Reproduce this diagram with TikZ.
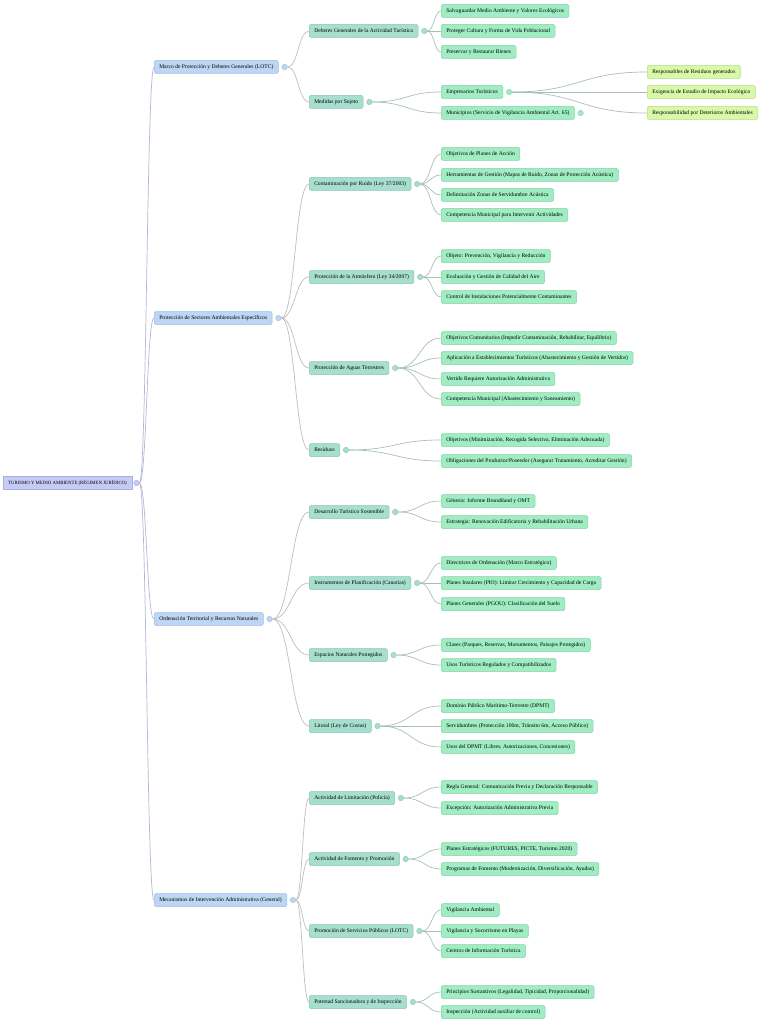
\documentclass[tikz,border=0pt]{standalone}
\usepackage{fontspec}
\setmainfont{Liberation Serif}
\usetikzlibrary{positioning, calc}

\definecolor{rootfill}{HTML}{C4CBF5}
\definecolor{rootline}{HTML}{A9B0E0}
\definecolor{secfill}{HTML}{BDD6F3}
\definecolor{secline}{HTML}{A3BEE0}
\definecolor{topfill}{HTML}{A6DFCE}
\definecolor{topline}{HTML}{8CC6B5}
\definecolor{itemfill}{HTML}{A0EDC3}
\definecolor{itemline}{HTML}{86D2A8}
\definecolor{subfill}{HTML}{D8F9A8}
\definecolor{subline}{HTML}{B8DA8C}
\definecolor{edgeA}{HTML}{B4B6D6}
\definecolor{edgeB}{HTML}{BDBDC4}
\definecolor{edgeC}{HTML}{A9BFB6}

\begin{document}
\begin{tikzpicture}[x=1pt, y=-1pt, font=\fontsize{5.6}{6.5}\selectfont,
  bx/.style={draw, rounded corners=1.5pt, anchor=west, minimum height=13pt,
             inner xsep=5pt, inner ysep=0pt, line width=.5pt},
  rt/.style={bx, fill=rootfill, draw=rootline, rounded corners=0pt,
             font=\fontsize{4.8}{6}\selectfont},
  sec/.style={bx, fill=secfill, draw=secline},
  top/.style={bx, fill=topfill, draw=topline},
  itm/.style={bx, fill=itemfill, draw=itemline},
  sub/.style={bx, fill=subfill, draw=subline},
  kb/.style={circle, inner sep=0pt, minimum size=5.5pt, line width=.4pt},
  kbA/.style={kb, fill=rootfill, draw=rootline},
  kbB/.style={kb, fill=secfill, draw=secline},
  kbC/.style={kb, fill=topfill, draw=topline},
  kbD/.style={kb, fill=itemfill, draw=itemline},
  lk/.style={line width=.7pt, to path={let \p1=(\tikztostart), \p2=(\tikztotarget) in
             .. controls ({(\x1+\x2)/2},\y1) and ({(\x1+\x2)/2},\y2) .. (\tikztotarget)}},
  la/.style={lk, draw=edgeA},
  lb/.style={lk, draw=edgeB},
  lc/.style={lk, draw=edgeC}]
\useasboundingbox (0,0) rectangle (768,1024);
% Root and the four main blocks.
\node[rt] (tma) at (3,483) {TURISMO Y MEDIO AMBIENTE (RÉGIMEN JURÍDICO)};
\node[sec] (marco) at (154,67) {Marco de Protección y Deberes Generales (LOTC)};
\node[sec] (sect) at (154,318) {Protección de Sectores Ambientales Específicos};
\node[sec] (orden) at (154,619) {Ordenación Territorial y Recursos Naturales};
\node[sec] (meca) at (154,900) {Mecanismos de Intervención Administrativa (General)};
% Topics under each block.
\node[top] (deb) at (309,31) {Deberes Generales de la Actividad Turística};
\node[top] (med) at (309,102) {Medidas por Sujeto};
\node[top] (ruido) at (309,184) {Contaminación por Ruido (Ley 37/2003)};
\node[top] (atm) at (309,277) {Protección de la Atmósfera (Ley 34/2007)};
\node[top] (agua) at (309,368) {Protección de Aguas Terrestres};
\node[top] (resid) at (309,450) {Residuos};
\node[top] (desa) at (309,512) {Desarrollo Turístico Sostenible};
\node[top] (instr) at (309,583) {Instrumentos de Planificación (Canarias)};
\node[top] (enp) at (309,655) {Espacios Naturales Protegidos};
\node[top] (lito) at (309,726) {Litoral (Ley de Costas)};
\node[top] (limi) at (309,798) {Actividad de Limitación (Policía)};
\node[top] (fom) at (309,859) {Actividad de Fomento y Promoción};
\node[top] (serv) at (309,931) {Promoción de Servicios Públicos (LOTC)};
\node[top] (pot) at (309,1002) {Potestad Sancionadora y de Inspección};
% Leaves.
\node[itm] (deb1) at (441,11) {Salvaguardar Medio Ambiente y Valores Ecológicos};
\node[itm] (deb2) at (441,31) {Proteger Cultura y Forma de Vida Poblacional};
\node[itm] (deb3) at (441,52) {Preservar y Restaurar Bienes};
\node[itm] (med1) at (441,92) {Empresarios Turísticos};
\node[itm] (med2) at (441,113) {Municipios (Servicio de Vigilancia Ambiental Art. 65)};
\node[sub] (emp1) at (647,72) {Responsables de Residuos generados};
\node[sub] (emp2) at (647,92) {Exigencia de Estudio de Impacto Ecológico};
\node[sub] (emp3) at (647,113) {Responsabilidad por Deterioros Ambientales};
\node[itm] (rui1) at (441,154) {Objetivos de Planes de Acción};
\node[itm] (rui2) at (441,175) {Herramientas de Gestión (Mapas de Ruido, Zonas de Protección Acústica)};
\node[itm] (rui3) at (441,195) {Delimitación Zonas de Servidumbre Acústica};
\node[itm] (rui4) at (441,215) {Competencia Municipal para Intervenir Actividades};
\node[itm] (atm1) at (441,256) {Objeto: Prevención, Vigilancia y Reducción};
\node[itm] (atm2) at (441,277) {Evaluación y Gestión de Calidad del Aire};
\node[itm] (atm3) at (441,297) {Control de Instalaciones Potencialmente Contaminantes};
\node[itm] (agu1) at (441,338) {Objetivos Comunitarios (Impedir Contaminación, Rehabilitar, Equilibrio)};
\node[itm] (agu2) at (441,358) {Aplicación a Establecimientos Turísticos (Abastecimiento y Gestión de Vertidos)};
\node[itm] (agu3) at (441,379) {Vertido Requiere Autorización Administrativa};
\node[itm] (agu4) at (441,399) {Competencia Municipal (Abastecimiento y Saneamiento)};
\node[itm] (res1) at (441,440) {Objetivos (Minimización, Recogida Selectiva, Eliminación Adecuada)};
\node[itm] (res2) at (441,461) {Obligaciones del Productor/Poseedor (Asegurar Tratamiento, Acreditar Gestión)};
\node[itm] (des1) at (441,501) {Génesis: Informe Brundtland y OMT};
\node[itm] (des2) at (441,522) {Estrategia: Renovación Edificatoria y Rehabilitación Urbana};
\node[itm] (ins1) at (441,563) {Directrices de Ordenación (Marco Estratégico)};
\node[itm] (ins2) at (441,583) {Planes Insulares (PIO): Limitar Crecimiento y Capacidad de Carga};
\node[itm] (ins3) at (441,604) {Planes Generales (PGOU): Clasificación del Suelo};
\node[itm] (enp1) at (441,645) {Clases (Parques, Reservas, Monumentos, Paisajes Protegidos)};
\node[itm] (enp2) at (441,665) {Usos Turísticos Regulados y Compatibilizados};
\node[itm] (lit1) at (441,706) {Dominio Público Marítimo-Terrestre (DPMT)};
\node[itm] (lit2) at (441,726) {Servidumbres (Protección 100m, Tránsito 6m, Acceso Público)};
\node[itm] (lit3) at (441,747) {Usos del DPMT (Libres, Autorizaciones, Concesiones)};
\node[itm] (lim1) at (441,787) {Regla General: Comunicación Previa y Declaración Responsable};
\node[itm] (lim2) at (441,808) {Excepción: Autorización Administrativa Previa};
\node[itm] (fom1) at (441,849) {Planes Estratégicos (FUTURES, PICTE, Turismo 2020)};
\node[itm] (fom2) at (441,869) {Programas de Fomento (Modernización, Diversificación, Ayudas)};
\node[itm] (ser1) at (441,910) {Vigilancia Ambiental};
\node[itm] (ser2) at (441,931) {Vigilancia y Socorrismo en Playas};
\node[itm] (ser3) at (441,951) {Centros de Información Turística};
\node[itm] (pot1) at (441,992) {Principios Sustantivos (Legalidad, Tipicidad, Proporcionalidad)};
\node[itm] (pot2) at (441,1012) {Inspección (Actividad auxiliar de control)};
% Fold knobs beside every parent.
\node[kbA, right=1.5pt of tma] (tma-k) {};
\node[kbB, right=3pt of marco] (marco-k) {}; \node[kbB, right=3pt of sect] (sect-k) {};
\node[kbB, right=3pt of orden] (orden-k) {}; \node[kbB, right=3pt of meca] (meca-k) {};
\node[kbC, right=3pt of deb] (deb-k) {}; \node[kbC, right=3pt of med] (med-k) {};
\node[kbC, right=3pt of ruido] (ruido-k) {}; \node[kbC, right=3pt of atm] (atm-k) {};
\node[kbC, right=3pt of agua] (agua-k) {}; \node[kbC, right=3pt of resid] (resid-k) {};
\node[kbC, right=3pt of desa] (desa-k) {}; \node[kbC, right=3pt of instr] (instr-k) {};
\node[kbC, right=3pt of enp] (enp-k) {}; \node[kbC, right=3pt of lito] (lito-k) {};
\node[kbC, right=3pt of limi] (limi-k) {}; \node[kbC, right=3pt of fom] (fom-k) {};
\node[kbC, right=3pt of serv] (serv-k) {}; \node[kbC, right=3pt of pot] (pot-k) {};
\node[kbD, right=3pt of med1] (med1-k) {}; \node[kbD, right=3pt of med2] (med2-k) {};
% Branches: root to blocks, blocks to topics, topics to leaves.
\draw[la] (tma-k.east) to (marco.west); \draw[la] (tma-k.east) to (sect.west);
\draw[la] (tma-k.east) to (orden.west); \draw[la] (tma-k.east) to (meca.west);
\draw[lb] (marco-k.east) to (deb.west); \draw[lb] (marco-k.east) to (med.west);
\draw[lb] (sect-k.east) to (ruido.west); \draw[lb] (sect-k.east) to (atm.west);
\draw[lb] (sect-k.east) to (agua.west); \draw[lb] (sect-k.east) to (resid.west);
\draw[lb] (orden-k.east) to (desa.west); \draw[lb] (orden-k.east) to (instr.west);
\draw[lb] (orden-k.east) to (enp.west); \draw[lb] (orden-k.east) to (lito.west);
\draw[lb] (meca-k.east) to (limi.west); \draw[lb] (meca-k.east) to (fom.west);
\draw[lb] (meca-k.east) to (serv.west); \draw[lb] (meca-k.east) to (pot.west);
\draw[lc] (deb-k.east) to (deb1.west); \draw[lc] (deb-k.east) to (deb2.west); \draw[lc] (deb-k.east) to (deb3.west);
\draw[lc] (med-k.east) to (med1.west); \draw[lc] (med-k.east) to (med2.west);
\draw[lc] (med1-k.east) to (emp1.west); \draw[lc] (med1-k.east) to (emp2.west); \draw[lc] (med1-k.east) to (emp3.west);
\draw[lc] (ruido-k.east) to (rui1.west); \draw[lc] (ruido-k.east) to (rui2.west);
\draw[lc] (ruido-k.east) to (rui3.west); \draw[lc] (ruido-k.east) to (rui4.west);
\draw[lc] (atm-k.east) to (atm1.west); \draw[lc] (atm-k.east) to (atm2.west); \draw[lc] (atm-k.east) to (atm3.west);
\draw[lc] (agua-k.east) to (agu1.west); \draw[lc] (agua-k.east) to (agu2.west);
\draw[lc] (agua-k.east) to (agu3.west); \draw[lc] (agua-k.east) to (agu4.west);
\draw[lc] (resid-k.east) to (res1.west); \draw[lc] (resid-k.east) to (res2.west);
\draw[lc] (desa-k.east) to (des1.west); \draw[lc] (desa-k.east) to (des2.west);
\draw[lc] (instr-k.east) to (ins1.west); \draw[lc] (instr-k.east) to (ins2.west); \draw[lc] (instr-k.east) to (ins3.west);
\draw[lc] (enp-k.east) to (enp1.west); \draw[lc] (enp-k.east) to (enp2.west);
\draw[lc] (lito-k.east) to (lit1.west); \draw[lc] (lito-k.east) to (lit2.west); \draw[lc] (lito-k.east) to (lit3.west);
\draw[lc] (limi-k.east) to (lim1.west); \draw[lc] (limi-k.east) to (lim2.west);
\draw[lc] (fom-k.east) to (fom1.west); \draw[lc] (fom-k.east) to (fom2.west);
\draw[lc] (serv-k.east) to (ser1.west); \draw[lc] (serv-k.east) to (ser2.west); \draw[lc] (serv-k.east) to (ser3.west);
\draw[lc] (pot-k.east) to (pot1.west); \draw[lc] (pot-k.east) to (pot2.west);
\end{tikzpicture}
\end{document}
